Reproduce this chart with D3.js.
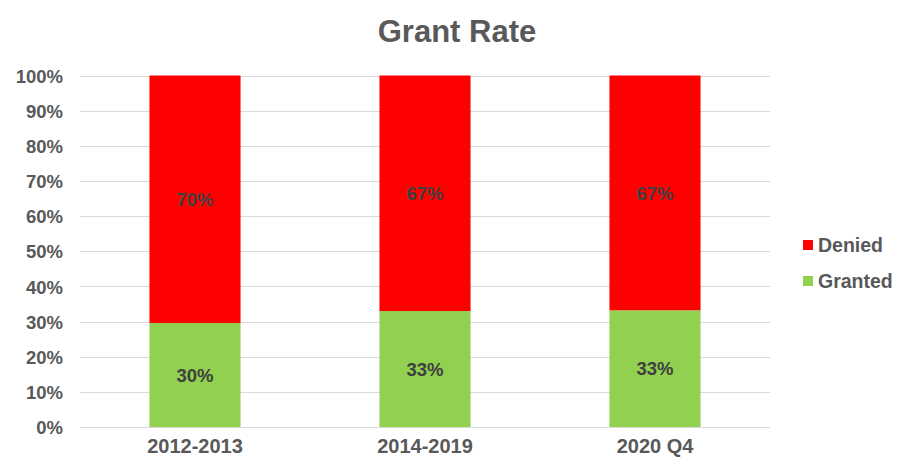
<!DOCTYPE html>
<head>
<meta charset="utf-8">
<title>Grant Rate</title>
</head>
<style>
    body { margin: 0; background: #fff; }
    svg { display: block; font-family: "Liberation Sans", Arial, sans-serif; }
    .grid line { stroke: #d9d9d9; stroke-width: 1px; }
    .tick text { fill: #595959; font-weight: bold; }
</style>
<body>
<script src="https://d3js.org/d3.v7.min.js"></script>
<script>
    var categories = ["2012-2013", "2014-2019", "2020 Q4"];
    var granted = [29.6, 33, 33.2];
    var denied = [70.4, 67, 66.8];
    var yTicks = [0, 10, 20, 30, 40, 50, 60, 70, 80, 90, 100];

    var width = 912, height = 472;
    var plotLeft = 80, plotRight = 770, plotTop = 75.5, plotBottom = 427;

    var svg = d3.select("body").append("svg")
        .attr("width", width)
        .attr("height", height);

    var x = d3.scaleBand()
        .domain(categories)
        .range([plotLeft, plotRight])
        .paddingInner(0.604)
        .paddingOuter(0.302);

    var y = d3.scaleLinear()
        .domain([0, 100])
        .range([plotBottom, plotTop]);

    // gridlines
    svg.append("g")
        .attr("class", "grid")
        .selectAll("line")
        .data(yTicks)
        .enter().append("line")
        .attr("x1", plotLeft).attr("x2", plotRight)
        .attr("y1", d => Math.round(y(d)) + 0.5)
        .attr("y2", d => Math.round(y(d)) + 0.5);

    // y axis labels
    var yAxis = svg.append("g")
        .attr("transform", "translate(" + (plotLeft - 17) + ",0)")
        .call(d3.axisLeft(y).tickValues(yTicks).tickFormat(d => d + "%").tickSize(0).tickPadding(0));
    yAxis.select(".domain").remove();
    yAxis.selectAll("text").attr("dy", "0.36em").attr("font-size", "18.5px");

    // x axis labels
    var xAxis = svg.append("g")
        .attr("transform", "translate(0," + plotBottom + ")")
        .call(d3.axisBottom(x).tickSize(0).tickPadding(12));
    xAxis.select(".domain").remove();
    xAxis.selectAll("text").attr("font-size", "20px");

    var rows = categories.map((c, i) => ({ cat: c, granted: granted[i], denied: denied[i] }));
    var stack = d3.stack().keys(["granted", "denied"])(rows);
    var colors = { granted: "#92d050", denied: "#ff0000" };

    var layers = svg.selectAll(".layer")
        .data(stack)
        .enter().append("g")
        .attr("class", "layer")
        .attr("fill", d => colors[d.key]);

    layers.selectAll("rect")
        .data(d => d)
        .enter().append("rect")
        .attr("x", d => x(d.data.cat))
        .attr("width", x.bandwidth())
        .attr("y", d => y(d[1]))
        .attr("height", d => y(d[0]) - y(d[1]));

    layers.selectAll("text.val")
        .data(d => d)
        .enter().append("text")
        .attr("class", "val")
        .attr("x", d => x(d.data.cat) + x.bandwidth() / 2)
        .attr("y", d => (y(d[0]) + y(d[1])) / 2)
        .attr("dy", "0.36em")
        .attr("text-anchor", "middle")
        .attr("fill", "#404040")
        .attr("font-weight", "bold")
        .attr("font-size", "18.5px")
        .text(d => Math.round(d[1] - d[0]) + "%");

    // title
    svg.append("text")
        .attr("x", 457)
        .attr("y", 42)
        .attr("text-anchor", "middle")
        .attr("fill", "#595959")
        .attr("font-weight", "bold")
        .attr("font-size", "31px")
        .text("Grant Rate");

    // legend
    var legendKeys = ["denied", "granted"];
    var legendNames = { denied: "Denied", granted: "Granted" };
    var legend = svg.selectAll(".legend")
        .data(legendKeys)
        .enter().append("g")
        .attr("transform", (d, i) => "translate(803," + (245 + i * 36) + ")");
    legend.append("rect")
        .attr("x", 0).attr("y", -5)
        .attr("width", 10).attr("height", 10)
        .attr("fill", d => colors[d]);
    legend.append("text")
        .attr("x", 15)
        .attr("dy", "0.36em")
        .attr("fill", "#595959")
        .attr("font-weight", "bold")
        .attr("font-size", "19.5px")
        .text(d => legendNames[d]);
</script>
</body>
